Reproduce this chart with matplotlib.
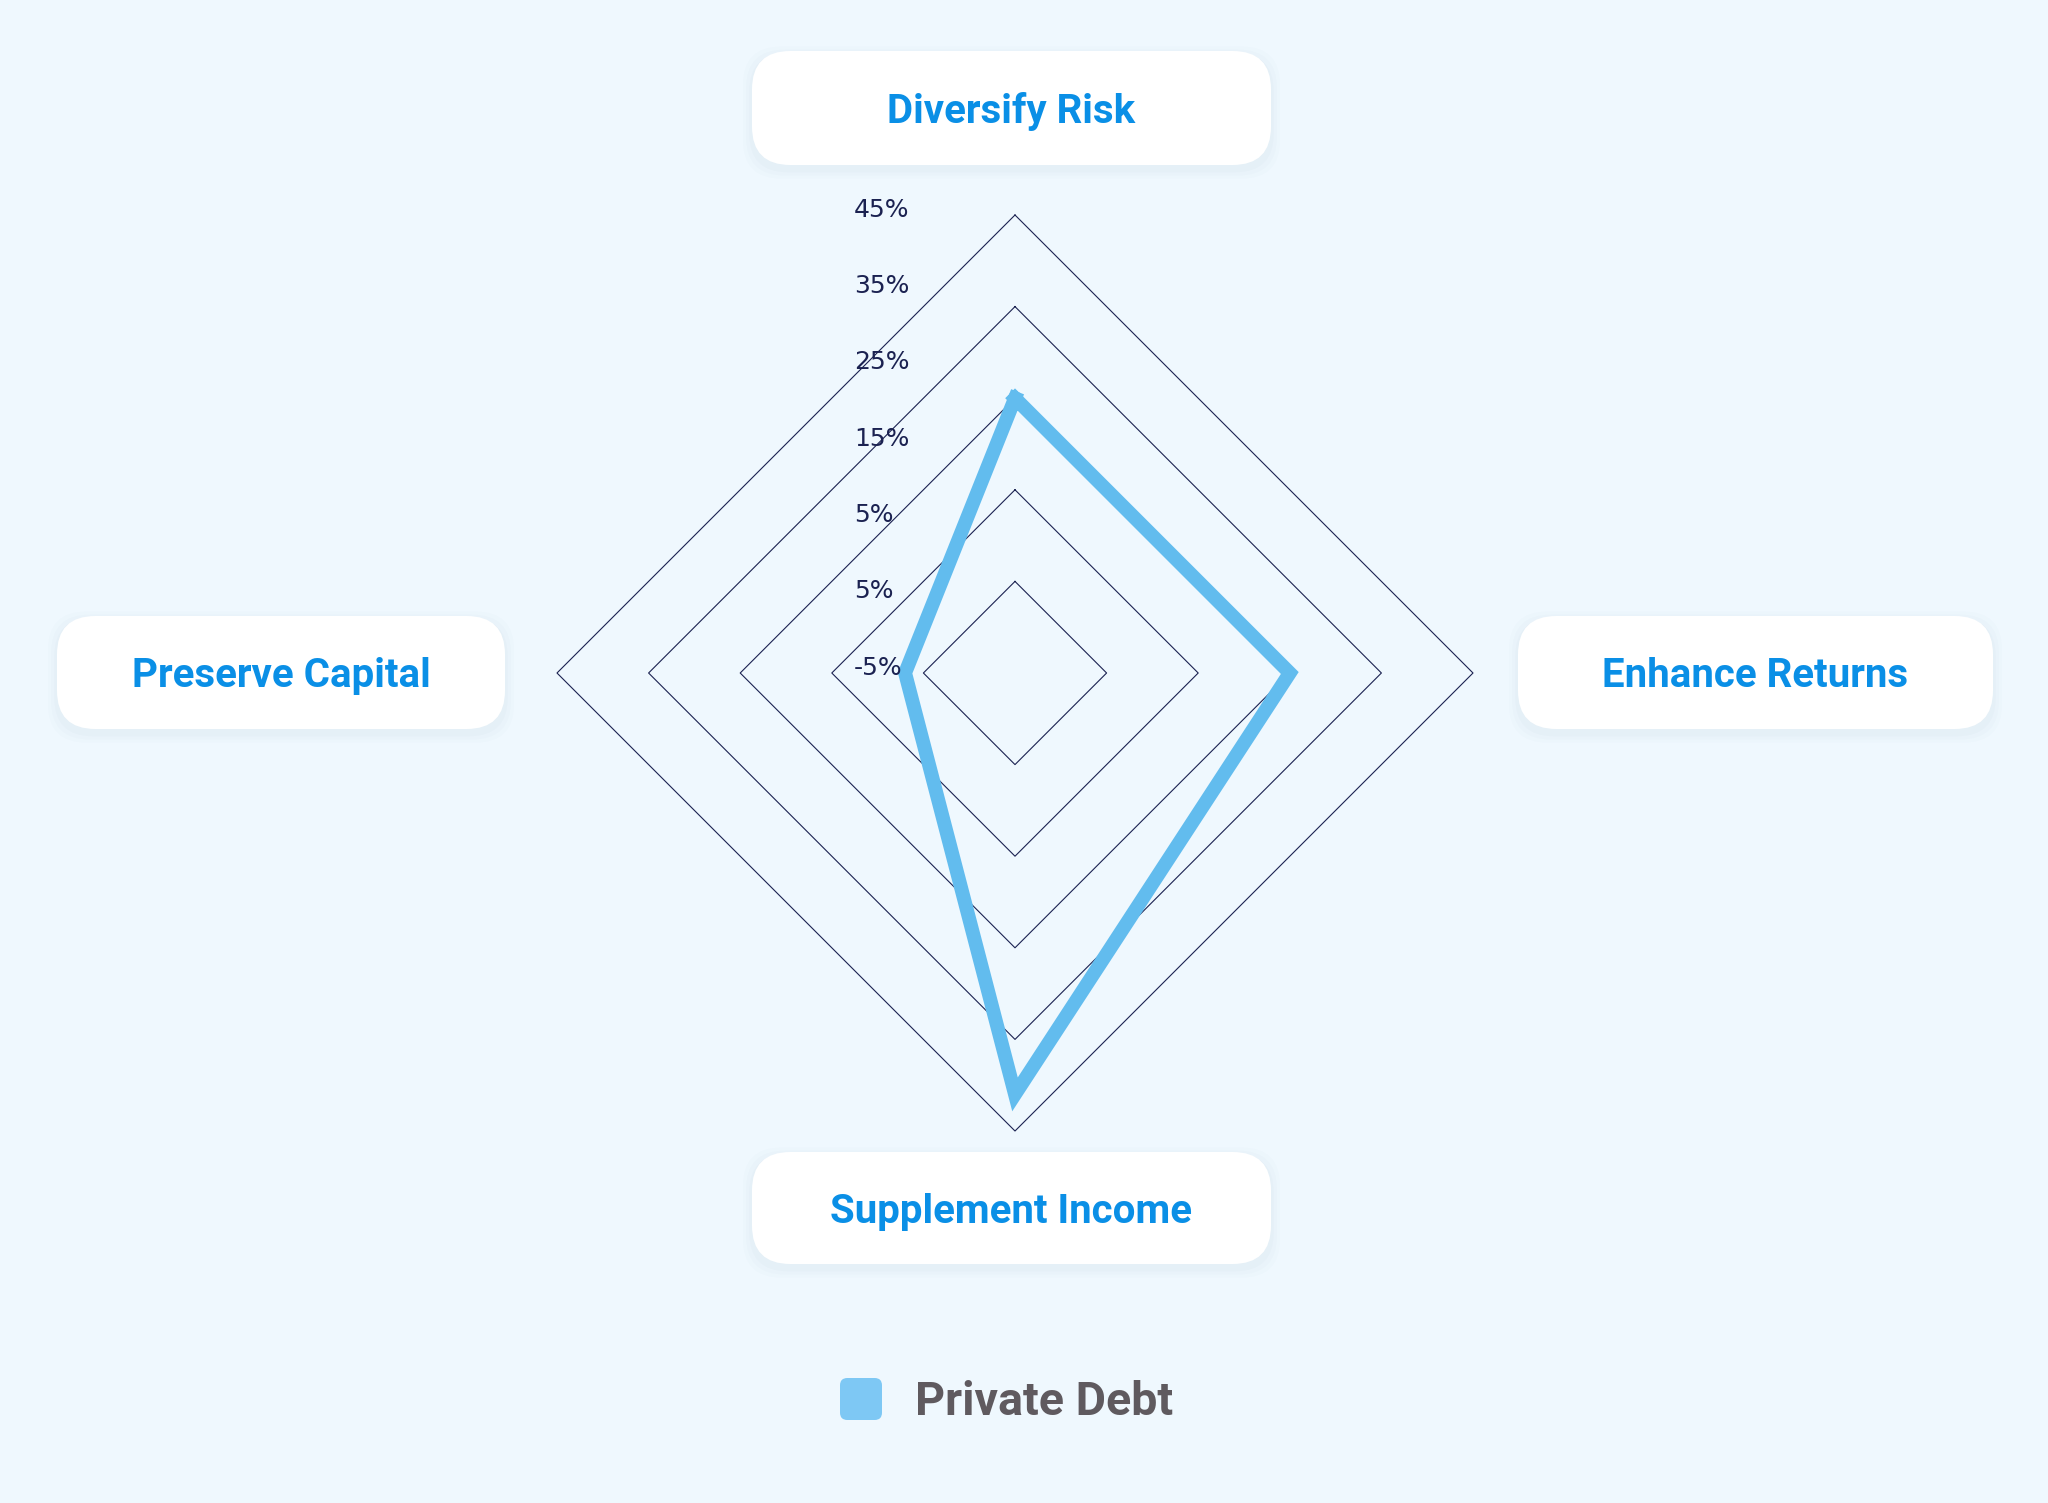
import matplotlib.pyplot as plt
import numpy as np
from matplotlib.patches import FancyBboxPatch

# data
categories = ["Diversify Risk", "Enhance Returns", "Supplement Income", "Preserve Capital"]
private_debt = [25, 25, 41, 7]
ring_levels = [5, 15, 25, 35, 45]
tick_labels = ["-5%", "5%", "5%", "15%", "25%", "35%", "45%"]
r_min, r_max = -5, 45

BG = "#eff8fe"
NAVY = "#1b2251"
LINE_BLUE = "#62bcee"
TEXT_BLUE = "#0a8fe6"

W, H = 2048, 1503
cx, cy = 1015, 830          # chart centre in pixels (from bottom)
scale = 9.16                # pixels per unit of radius


def px(x, y_top):
    # pixel position (y measured from the top) -> data units
    return (x - cx) / scale, (H - y_top - cy) / scale


fig = plt.figure(figsize=(W / 100, H / 100), dpi=100)
fig.patch.set_facecolor(BG)
ax = fig.add_axes([0, 0, 1, 1])
ax.set_facecolor(BG)
ax.set_xlim(-cx / scale, (W - cx) / scale)
ax.set_ylim(-cy / scale, (H - cy) / scale)
ax.axis("off")

# angles: top, right, bottom, left (clockwise from the top)
angles = np.deg2rad([90, 0, -90, 180])
angles_closed = np.append(angles, angles[0])

# grid diamonds
for lvl in ring_levels:
    r = lvl - r_min
    ax.plot(r * np.cos(angles_closed), r * np.sin(angles_closed),
            color=NAVY, lw=0.8, zorder=2)

# series line
vals = np.array(private_debt + private_debt[:1], dtype=float) - r_min
ax.plot(vals * np.cos(angles_closed), vals * np.sin(angles_closed),
        color=LINE_BLUE, lw=10, solid_joinstyle="miter", zorder=3)

# radial tick labels
tick_x, _ = px(854, 0)
tick_pos = np.linspace(0, r_max - r_min, len(tick_labels))
for lab, r in zip(tick_labels, tick_pos):
    ax.text(tick_x, r + 0.6, lab, ha="left", va="center", fontsize=18,
            color=NAVY, family="DejaVu Sans", zorder=4)

# category label boxes
boxes = [(752, 1271, 51, 165), (1518, 1993, 616, 729),
         (752, 1271, 1152, 1264), (57, 505, 616, 729)]
text_drop = 4 / scale
for name, (x0, x1, y0, y1) in zip(categories, boxes):
    ax0, ay1 = px(x0, y0)
    ax1, ay0 = px(x1, y1)
    w, h = ax1 - ax0, ay1 - ay0
    pad = 4.2
    # soft shadow
    for k, a in enumerate([0.012, 0.015, 0.02]):
        grow = 1.0 - 0.35 * k
        sh = FancyBboxPatch((ax0 + pad - grow, ay0 + pad - grow - 0.5),
                            w - 2 * pad + 2 * grow, h - 2 * pad + 2 * grow,
                            boxstyle=f"round,pad={pad}", fc="#3a5f88",
                            ec="none", alpha=a, zorder=4)
        ax.add_patch(sh)
    box = FancyBboxPatch((ax0 + pad, ay0 + pad), w - 2 * pad, h - 2 * pad,
                         boxstyle=f"round,pad={pad}", fc="white", ec="none",
                         zorder=5)
    ax.add_patch(box)
    ax.text((ax0 + ax1) / 2, (ay0 + ay1) / 2 - text_drop, name, ha="center",
            va="center", fontsize=29, fontweight="bold", color=TEXT_BLUE,
            family="Roboto", zorder=6)

# legend
lx0, ly1 = px(840, 1378)
lx1, ly0 = px(882, 1420)
lp = 0.8
ax.add_patch(FancyBboxPatch((lx0 + lp, ly0 + lp), lx1 - lx0 - 2 * lp, ly1 - ly0 - 2 * lp,
                            boxstyle=f"round,pad={lp}", fc="#7ec8f4", ec="none",
                            zorder=5))
tx, ty = px(915, 1402)
ax.text(tx, ty, "Private Debt", ha="left", va="center", fontsize=33.5,
        fontweight="bold", color="#5f5a5f", family="Roboto", zorder=6)

fig.savefig("out.png", dpi=100, facecolor=BG)
